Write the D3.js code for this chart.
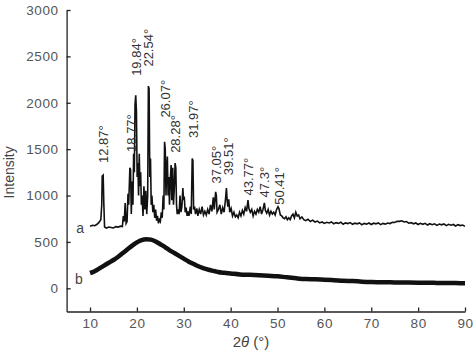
<!DOCTYPE html>
<html>
<head>
<meta charset="utf-8">
<script src="https://cdn.jsdelivr.net/npm/d3@7"></script>
<style>
  body { margin: 0; background: #fff; }
  svg { display: block; font-family: "Liberation Sans", Arial, sans-serif; }
</style>
</head>
<body>
<svg width="474" height="356"></svg>
<script>
// pattern a (crystalline), [2theta, intensity]
const patternA = [
  [10,670],[10.5,680],[11,675],[11.5,690],[11.9,710],[12.3,740],[12.5,900],[12.6,1210],[12.8,1220],[12.95,900],
  [13.1,660],[13.5,650],[14,660],[14.5,655],[15,650],[15.5,665],[16,660],[16.5,670],[16.9,665],[17.1,780],
  [17.3,720],[17.5,920],[17.7,700],[17.9,720],[18.1,1020],[18.25,900],[18.5,1300],[18.65,1280],[18.8,800],[19,1150],
  [19.15,900],[19.3,1450],[19.45,1250],[19.6,1980],[19.75,2080],[19.9,1900],[20.05,1200],[20.2,1350],[20.35,1000],[20.5,1450],
  [20.65,1100],[20.8,1250],[20.95,900],[21.1,1000],[21.3,780],[21.5,1100],[21.7,850],[21.9,1050],[22.1,800],[22.3,1000],
  [22.45,2180],[22.6,2150],[22.75,1200],[22.9,1400],[23.05,900],[23.2,1000],[23.4,820],[23.6,900],[23.8,760],[24,850],
  [24.2,730],[24.4,780],[24.6,700],[24.8,740],[25,720],[25.2,820],[25.4,760],[25.6,1000],[25.75,850],[25.9,1580],
  [26.05,1500],[26.2,1000],[26.35,1300],[26.5,1420],[26.65,1000],[26.8,1200],[26.95,900],[27.1,1150],[27.3,1330],[27.45,950],
  [27.65,1300],[27.8,900],[28,1100],[28.15,1350],[28.3,1300],[28.45,900],[28.6,800],[28.8,850],[29,800],[29.2,1000],
  [29.4,820],[29.6,880],[29.8,1080],[29.95,950],[30.1,990],[30.3,820],[30.5,870],[30.7,780],[30.9,830],[31.1,780],
  [31.4,880],[31.6,800],[31.8,1400],[31.95,1380],[32.1,850],[32.3,880],[32.5,800],[32.8,860],[33,780],[33.3,850],
  [33.6,800],[33.9,880],[34.2,790],[34.5,830],[34.8,790],[35.1,850],[35.4,800],[35.7,900],[36,830],[36.3,980],
  [36.5,850],[36.8,1040],[36.95,1000],[37.1,820],[37.4,850],[37.7,900],[38,800],[38.3,870],[38.6,820],[38.9,960],
  [39.1,1080],[39.25,950],[39.4,880],[39.6,960],[39.8,820],[40.1,860],[40.4,780],[40.7,820],[41,770],[41.3,790],
  [41.6,760],[41.9,820],[42.2,780],[42.5,840],[42.8,800],[43.1,870],[43.4,830],[43.7,950],[43.9,860],[44.2,820],
  [44.5,850],[44.8,780],[45.1,830],[45.4,800],[45.7,850],[46,820],[46.3,880],[46.6,800],[46.9,850],[47.2,920],
  [47.4,840],[47.7,810],[48,850],[48.3,790],[48.6,830],[48.9,800],[49.2,820],[49.5,790],[49.8,850],[50.1,880],
  [50.3,860],[50.6,790],[50.9,780],[51.2,760],[51.5,750],[51.8,770],[52.1,740],[52.4,760],[52.7,740],[53,780],
  [53.3,800],[53.6,760],[53.9,820],[54.2,780],[54.5,790],[54.8,750],[55.2,770],[55.6,740],[56,730],[56.5,745],
  [57,720],[57.5,735],[58,715],[58.5,725],[59,705],[59.5,715],[60,700],[60.5,712],[61,705],[61.5,715],[62,695],[62.5,708],[63,700],
  [63.5,712],[64,690],[64.5,705],[65,698],[65.5,708],[66,690],[66.5,702],[67,695],[67.5,705],[68,685],[68.5,700],[69,692],[69.5,704],
  [70,688],[70.5,702],[71,695],[71.5,705],[72,686],[72.5,700],[73,692],[73.5,704],[74,698],[74.5,712],[75,710],[75.5,722],[76,722],
  [76.5,728],[77,715],[77.5,720],[78,702],[78.5,708],[79,695],[79.5,704],[80,688],[80.5,700],[81,690],[81.5,700],[82,682],
  [82.5,696],[83,686],[83.5,695],[84,678],[84.5,692],[85,684],[85.5,694],[86,676],[86.5,690],[87,680],[87.5,688],[88,672],
  [88.5,686],[89,676],[89.5,682],[90,668]
];

// pattern b (amorphous hump)
const patternB = [
  [10,165],[11,185],[12,215],[13,245],[14,275],[15,305],[16,340],[17,380],[18,420],[19,460],
  [20,495],[21,520],[22,530],[23,525],[24,505],[25,475],[26,445],[27,410],[28,380],[29,350],
  [30,320],[31,290],[32,265],[33,240],[34,220],[35,205],[36,190],[37,180],[38,170],[39,165],
  [40,160],[42,150],[44,145],[46,140],[48,135],[50,130],[52,118],[54,108],[56,100],[58,97],
  [60,93],[62,88],[64,82],[66,78],[68,72],[70,68],[72,66],[74,64],[76,63],[78,62],
  [80,61],[82,60],[84,58],[86,57],[88,56],[90,55]
];

// peak labels: 2theta, text, intensity where the label starts
const peakTheta = [12.87, 18.77, 19.84, 22.54, 26.07, 28.28, 31.97, 37.05, 39.51, 43.77, 47.3, 50.41];
const peakText = ["12.87°", "18.77°", "19.84°", "22.54°", "26.07°", "28.28°", "31.97°", "37.05°", "39.51°", "43.77°", "47.3°", "50.41°"];
const peakLabelAt = [1350, 1470, 2290, 2390, 1840, 1460, 1620, 1130, 1220, 1000, 980, 900];

const xTicks = [10, 20, 30, 40, 50, 60, 70, 80, 90];
const yTicks = [0, 500, 1000, 1500, 2000, 2500, 3000];

const svg = d3.select('svg');

const x = d3.scaleLinear().domain([5, 90]).range([66.6, 465]);
const y = d3.scaleLinear().domain([-250, 3000]).range([311.5, 10]);

// y axis, ticks pointing inward
const yAxis = svg.append('g')
    .attr('transform', `translate(${x(5)},0)`)
    .call(d3.axisLeft(y).tickValues(yTicks).tickFormat(d3.format('d'))
        .tickSize(-4).tickSizeOuter(0).tickPadding(8));

// x axis
const xAxis = svg.append('g')
    .attr('transform', `translate(0,${y(-250)})`)
    .call(d3.axisBottom(x).tickValues(xTicks).tickFormat(d3.format('d'))
        .tickSize(-4).tickSizeOuter(0).tickPadding(7));

[yAxis, xAxis].forEach(a => {
  a.selectAll('path, line').attr('stroke', '#222').attr('stroke-width', 1.3);
  a.selectAll('text').attr('fill', '#555').style('font-size', '13.5px')
      .style('letter-spacing', '0.6px')
      .style('font-family', '"Liberation Sans", Arial, sans-serif');
});

// amorphous b, drawn thick as the noisy band
svg.append('path')
    .datum(patternB)
    .attr('d', d3.line().x(d => x(d[0])).y(d => y(d[1])).curve(d3.curveMonotoneX))
    .attr('fill', 'none')
    .attr('stroke', '#111')
    .attr('stroke-width', 4.5);

svg.append('path')
    .datum(patternA)
    .attr('d', d3.line().x(d => x(d[0])).y(d => y(d[1])))
    .attr('fill', 'none')
    .attr('stroke', '#111')
    .attr('stroke-width', 1.6);

// curve names
svg.append('text').attr('x', x(7.9)).attr('y', y(648)).attr('dy', '0.35em')
    .attr('text-anchor', 'middle').style('font-size', '14px').attr('fill', '#444').text('a');
svg.append('text').attr('x', x(7.6)).attr('y', y(100)).attr('dy', '0.35em')
    .attr('text-anchor', 'middle').style('font-size', '14px').attr('fill', '#444').text('b');

// peak labels
svg.append('g')
  .selectAll('text')
  .data(peakTheta)
  .join('text')
    .attr('transform', (d, i) => `translate(${x(d)},${y(peakLabelAt[i])}) rotate(-90)`)
    .attr('dy', '0.35em')
    .style('font-size', '13px')
    .attr('fill', '#333')
    .text((d, i) => peakText[i]);

// axis titles
svg.append('text')
    .attr('transform', `translate(14,${y(1250)}) rotate(-90)`)
    .attr('text-anchor', 'middle')
    .style('font-size', '14px')
    .attr('fill', '#444')
    .text('Intensity');

const xt = svg.append('text')
    .attr('x', 251).attr('y', 347)
    .attr('text-anchor', 'middle')
    .style('font-size', '15px')
    .attr('fill', '#444');
xt.append('tspan').text('2');
xt.append('tspan').style('font-style', 'italic').text('θ');
xt.append('tspan').text(' (°)');
</script>
</body>
</html>
